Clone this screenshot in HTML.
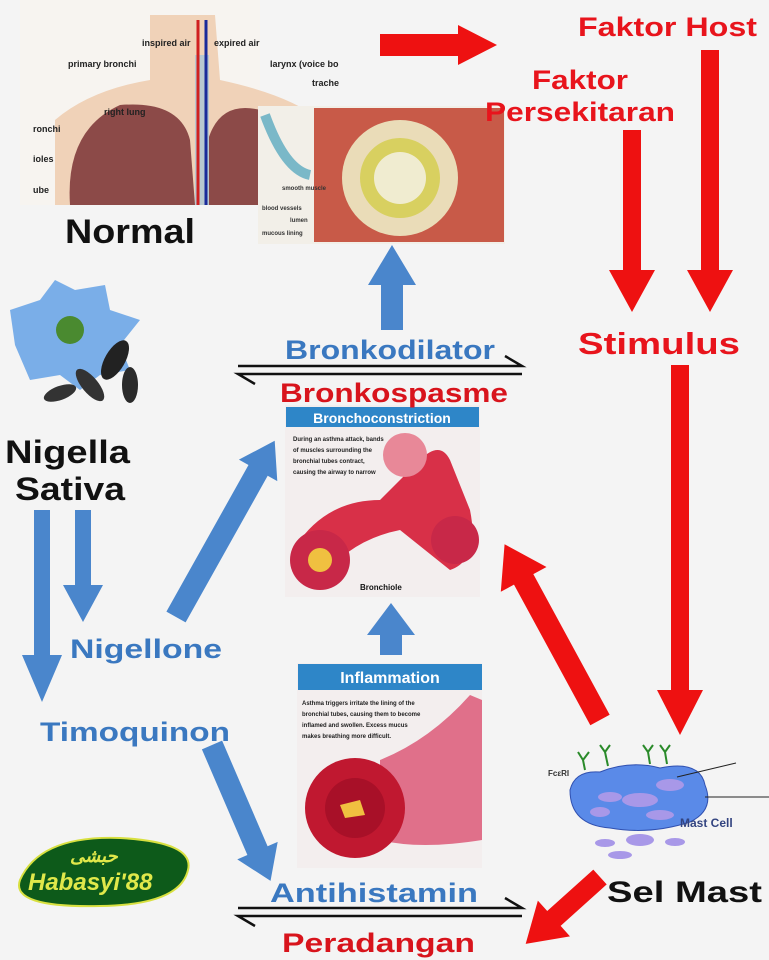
<!DOCTYPE html>
<html><head><meta charset="utf-8"><style>
html,body{margin:0;padding:0;background:#f4f4f4;}
svg{display:block;}
text{font-family:"Liberation Sans",sans-serif;font-weight:bold;}
</style></head><body>
<svg width="769" height="960" viewBox="0 0 769 960" xmlns="http://www.w3.org/2000/svg">
<rect width="769" height="960" fill="#f4f4f4"/>
<g>
<rect x="20" y="0" width="240" height="205" fill="#f7f4f0"/>
<path d="M150 15 L215 15 L220 80 Q290 95 320 120 L320 205 L55 205 L55 120 Q90 90 150 80 Z" fill="#f0d2b8"/>
<path d="M70 205 Q65 130 120 105 Q180 100 190 140 L195 205 Z" fill="#8c4a48"/>
<path d="M205 205 L208 140 Q220 100 260 110 L260 205 Z" fill="#8c4a48"/>
<rect x="195" y="55" width="14" height="150" fill="#b8c8d0"/>
<line x1="198" y1="20" x2="198" y2="205" stroke="#d02020" stroke-width="3"/>
<line x1="206" y1="20" x2="206" y2="205" stroke="#1a2a9a" stroke-width="3"/>
<text x="142" y="46" font-size="9" fill="#222" font-weight="normal">inspired air</text>
<text x="214" y="46" font-size="9" fill="#222" font-weight="normal">expired air</text>
<text x="68" y="67" font-size="9" fill="#222" font-weight="normal">primary bronchi</text>
<text x="270" y="67" font-size="9" fill="#222" font-weight="normal">larynx (voice bo</text>
<text x="312" y="86" font-size="9" fill="#222" font-weight="normal">trache</text>
<text x="104" y="115" font-size="9" fill="#222" font-weight="normal">right lung</text>
<text x="33" y="132" font-size="9" fill="#222" font-weight="normal">ronchi</text>
<text x="33" y="162" font-size="9" fill="#222" font-weight="normal">ioles</text>
<text x="33" y="193" font-size="9" fill="#222" font-weight="normal">ube</text>
</g>
<g>
<rect x="258" y="106" width="247" height="138" fill="#f2efe8"/>
<rect x="314" y="108" width="190" height="134" fill="#c85a48"/>
<circle cx="400" cy="178" r="58" fill="#eadcb8"/>
<circle cx="400" cy="178" r="40" fill="#d8d060"/>
<circle cx="400" cy="178" r="26" fill="#f0ecd0"/>
<path d="M265 115 Q285 170 310 175" stroke="#7ab8c8" stroke-width="10" fill="none"/>
<text x="282" y="190" font-size="6" fill="#333" font-weight="normal">smooth muscle</text>
<text x="262" y="210" font-size="6" fill="#333" font-weight="normal">blood vessels</text>
<text x="290" y="222" font-size="6" fill="#333" font-weight="normal">lumen</text>
<text x="262" y="235" font-size="6" fill="#333" font-weight="normal">mucous lining</text>
</g>
<text x="65" y="243" font-size="34" fill="#111" textLength="130" lengthAdjust="spacingAndGlyphs">Normal</text>
<g>
<polygon points="15,345 10,310 40,300 55,280 75,290 105,285 110,310 140,320 120,345 130,370 100,375 80,390 60,375 30,380" fill="#7aaee8"/>
<circle cx="70" cy="330" r="14" fill="#4a8a30"/>
<ellipse cx="115" cy="360" rx="10" ry="22" fill="#222" transform="rotate(30 115 360)"/>
<ellipse cx="90" cy="385" rx="8" ry="20" fill="#333" transform="rotate(-40 90 385)"/>
<ellipse cx="130" cy="385" rx="8" ry="18" fill="#2a2a2a"/>
<ellipse cx="60" cy="393" rx="7" ry="17" fill="#333" transform="rotate(70 60 393)"/>
</g>
<text x="5" y="463" font-size="32" fill="#111" textLength="125" lengthAdjust="spacingAndGlyphs">Nigella</text>
<text x="15" y="500" font-size="32" fill="#111" textLength="110" lengthAdjust="spacingAndGlyphs">Sativa</text>
<g>
<path d="M20 880 Q40 835 120 838 Q195 842 188 870 Q180 905 100 906 Q10 908 20 880 Z" fill="#0d5a1a" stroke="#d8e040" stroke-width="2"/>
<text x="70" y="862" font-size="18" fill="#e0e84a" font-weight="normal" font-style="italic" font-family="'DejaVu Sans',sans-serif">حبشى</text>
<text x="28" y="890" font-size="24" fill="#e0e84a" font-weight="normal" font-style="italic">Habasyi'88</text>
</g>
<g>
<rect x="285" y="405" width="195" height="192" fill="#f3eeee"/>
<rect x="286" y="407" width="193" height="20" fill="#2e86c8"/>
<text x="382" y="423" font-size="14" fill="#fff" text-anchor="middle">Bronchoconstriction</text>
<text x="293" y="441" font-size="6" fill="#222">During an asthma attack, bands</text>
<text x="293" y="452" font-size="6" fill="#222">of muscles surrounding the</text>
<text x="293" y="463" font-size="6" fill="#222">bronchial tubes contract,</text>
<text x="293" y="474" font-size="6" fill="#222">causing the airway to narrow</text>
<path d="M300 540 Q330 500 380 500 L420 460 Q440 440 450 460 L470 510 Q480 560 450 570 L400 530 Q350 540 320 580 Z" fill="#d83048"/>
<circle cx="405" cy="455" r="22" fill="#e88898"/>
<circle cx="320" cy="560" r="30" fill="#c82848"/>
<circle cx="320" cy="560" r="12" fill="#f0c040"/>
<circle cx="455" cy="540" r="24" fill="#c82848"/>
<text x="360" y="590" font-size="8" fill="#111">Bronchiole</text>
</g>
<g>
<rect x="297" y="663" width="185" height="205" fill="#f3eeee"/>
<rect x="298" y="664" width="184" height="26" fill="#2e86c8"/>
<text x="390" y="683" font-size="16" fill="#fff" text-anchor="middle">Inflammation</text>
<text x="302" y="705" font-size="6" fill="#222">Asthma triggers irritate the lining of the</text>
<text x="302" y="716" font-size="6" fill="#222">bronchial tubes, causing them to become</text>
<text x="302" y="727" font-size="6" fill="#222">inflamed and swollen. Excess mucus</text>
<text x="302" y="738" font-size="6" fill="#222">makes breathing more difficult.</text>
<path d="M380 760 Q430 740 470 695 L482 700 L482 840 Q420 850 380 840 Z" fill="#e0708a"/>
<circle cx="355" cy="808" r="50" fill="#c01830"/>
<circle cx="355" cy="808" r="30" fill="#a81028"/>
<path d="M340 805 L360 800 L365 815 L345 818 Z" fill="#f0c040"/>
</g>
<g>
<path d="M570 790 Q575 770 600 772 Q630 760 660 768 Q700 760 705 785 Q715 810 690 822 Q650 835 610 828 Q570 825 570 790 Z" fill="#5a8ae8" stroke="#3050b0" stroke-width="1"/>
<ellipse cx="610" cy="797" rx="12" ry="5" fill="#a898e8"/>
<ellipse cx="640" cy="800" rx="18" ry="7" fill="#a898e8"/>
<ellipse cx="670" cy="785" rx="14" ry="6" fill="#a898e8"/>
<ellipse cx="660" cy="815" rx="14" ry="5" fill="#a898e8"/>
<ellipse cx="600" cy="812" rx="10" ry="5" fill="#a898e8"/>
<ellipse cx="605" cy="843" rx="10" ry="4" fill="#a898e8"/>
<ellipse cx="640" cy="840" rx="14" ry="6" fill="#a898e8"/>
<ellipse cx="675" cy="842" rx="10" ry="4" fill="#a898e8"/>
<ellipse cx="620" cy="855" rx="12" ry="4" fill="#a898e8"/>
<path d="M585 770 L583 760 M583 760 L578 752 M583 760 L589 752 M608 766 L605 752 M605 752 L600 745 M605 752 L610 745 M650 764 L648 752 M648 752 L643 745 M648 752 L653 745 M667 764 L665 752 M665 752 L660 745 M665 752 L670 745" stroke="#2a8a2a" stroke-width="2"/>
<text x="548" y="776" font-size="8" fill="#333" font-weight="normal">FcεRI</text>
<line x1="677" y1="777" x2="736" y2="763" stroke="#222"/>
<line x1="705" y1="797" x2="769" y2="797" stroke="#222"/>
<text x="680" y="827" font-size="12" fill="#334480">Mast Cell</text>
</g>
<text x="607" y="902" font-size="30" fill="#111" textLength="155" lengthAdjust="spacingAndGlyphs">Sel Mast</text>
<text x="578" y="36" font-size="27" fill="#e8141c" textLength="179" lengthAdjust="spacingAndGlyphs">Faktor Host</text>
<text x="532" y="89" font-size="27" fill="#e8141c" textLength="96" lengthAdjust="spacingAndGlyphs">Faktor</text>
<text x="485" y="121" font-size="27" fill="#e8141c" textLength="190" lengthAdjust="spacingAndGlyphs">Persekitaran</text>
<text x="578" y="354" font-size="31" fill="#e8141c" textLength="162" lengthAdjust="spacingAndGlyphs">Stimulus</text>
<text x="280" y="402" font-size="27" fill="#d8141c" textLength="228" lengthAdjust="spacingAndGlyphs">Bronkospasme</text>
<text x="282" y="952" font-size="27" fill="#d8141c" textLength="193" lengthAdjust="spacingAndGlyphs">Peradangan</text>
<text x="285" y="359" font-size="27" fill="#3a78c0" textLength="210" lengthAdjust="spacingAndGlyphs">Bronkodilator</text>
<text x="70" y="658" font-size="27" fill="#3a78c0" textLength="152" lengthAdjust="spacingAndGlyphs">Nigellone</text>
<text x="40" y="741" font-size="27" fill="#3a78c0" textLength="190" lengthAdjust="spacingAndGlyphs">Timoquinon</text>
<text x="270" y="902" font-size="27" fill="#3a78c0" textLength="208" lengthAdjust="spacingAndGlyphs">Antihistamin</text>
<g stroke="#111" stroke-width="2.5" fill="none">
<path d="M238 366 L522 366 L505 356"/>
<path d="M522 374 L238 374 L255 384"/>
<path d="M238 908 L522 908 L505 898"/>
<path d="M522 916 L238 916 L255 926"/>
</g>
<g fill="#ee1111">
<polygon points="380,34 458,34 458,25 497,45 458,65 458,56 380,56"/>
<polygon points="701,50 719,50 719,270 733,270 710,312 687,270 701,270"/>
<polygon points="623,130 641,130 641,270 655,270 632,312 609,270 623,270"/>
<polygon points="671,365 689,365 689,690 703,690 680,735 657,690 671,690"/>
<g transform="translate(600,720) rotate(-118.5)"><polygon points="0,-11 160,-11 160,-26 200,0 160,26 160,11 0,11"/></g>
<g transform="translate(600,877) rotate(138)"><polygon points="0,-10 62,-10 62,-24 100,0 62,24 62,10 0,10"/></g>
</g>
<g fill="#4a86cc">
<polygon points="381,330 403,330 403,285 416,285 392,245 368,285 381,285"/>
<polygon points="380,655 402,655 402,635 415,635 391,603 367,635 380,635"/>
<polygon points="34,510 50,510 50,655 62,655 42,702 22,655 34,655"/>
<polygon points="75,510 91,510 91,585 103,585 83,622 63,585 75,585"/>
<g transform="translate(176,617) rotate(-60.75)"><polygon points="0,-11 168,-11 168,-22 202,0 168,22 168,11 0,11"/></g>
<g transform="translate(212,745) rotate(66.7)"><polygon points="0,-11 115,-11 115,-22 148,0 115,22 115,11 0,11"/></g>
</g>
</svg>
</body></html>
